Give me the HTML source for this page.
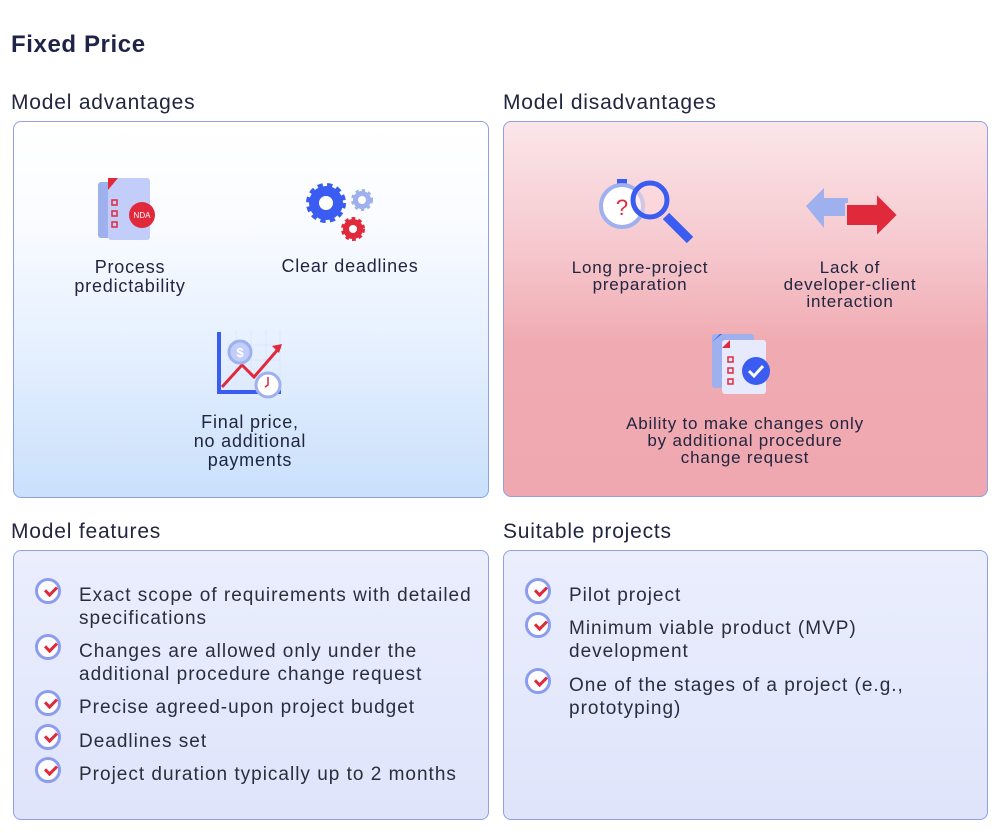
<!DOCTYPE html>
<html><head><meta charset="utf-8"><style>
*{margin:0;padding:0;box-sizing:border-box}
body{width:1000px;height:833px;background:#fff;font-family:"Liberation Sans",sans-serif;color:#22253f;position:relative;overflow:hidden}
.a{position:absolute}
.h{font-size:21px;letter-spacing:0.8px}
.box{position:absolute;border:1.5px solid #8fa0e6;border-radius:8px}
.c{text-align:center;font-size:17px;line-height:17px;letter-spacing:0.8px}
.li{position:absolute;font-size:19px;line-height:23px;color:#2b2d3a;letter-spacing:1px;white-space:nowrap}
.ck{position:absolute;width:26px;height:26px;border-radius:50%;border:3px solid #8c9cf0;background:#fff}
.ck:after{content:"";position:absolute;left:7px;top:5px;width:9px;height:5px;border-left:3px solid #e02a3c;border-bottom:3px solid #e02a3c;transform:rotate(-45deg)}
</style></head><body>
<div class="a" style="left:11px;top:31px;font-size:24px;font-weight:bold;color:#1e2347;letter-spacing:0.6px">Fixed Price</div>
<div class="a h" style="left:11px;top:91px">Model advantages</div>
<div class="a h" style="left:503px;top:91px">Model disadvantages</div>
<div class="a h" style="left:11px;top:520px">Model features</div>
<div class="a h" style="left:503px;top:520px">Suitable projects</div>

<div class="box" style="left:13px;top:121px;width:476px;height:377px;background:linear-gradient(#fff 0%,#fafcff 25%,#e6f0ff 60%,#c9e0fb 100%)"></div>
<div class="box" style="left:503px;top:121px;width:485px;height:376px;background:linear-gradient(#fbe6e9 0%,#f5c7cd 35%,#f0aab1 60%,#efa8b0 100%)"></div>
<div class="box" style="left:13px;top:550px;width:476px;height:270px;background:linear-gradient(#eaeefd,#dfe4fb)"></div>
<div class="box" style="left:503px;top:550px;width:485px;height:270px;background:linear-gradient(#eaeefd,#dfe4fb)"></div>

<svg class="a" style="left:96px;top:178px" width="62" height="64"><rect x="2" y="4" width="40" height="56" rx="3" fill="#9fb0ef"/><rect x="12" y="0" width="42" height="62" rx="3" fill="#c3cdfa"/><path d="M12 0h10L12 12z" fill="#e02a3c"/><g fill="none" stroke="#e02a3c" stroke-width="1.5"><rect x="16" y="22" width="5" height="5"/><rect x="16" y="33" width="5" height="5"/><rect x="16" y="44" width="5" height="5"/></g><circle cx="46" cy="37" r="13" fill="#e02a3c"/><text x="46" y="40" font-size="8" fill="#fff" text-anchor="middle" font-family="Liberation Sans">NDA</text></svg>
<svg class="a" style="left:304px;top:180px" width="72" height="64"><circle cx="22" cy="23" r="17" fill="#3a5cf0" stroke="#3a5cf0" stroke-width="6" stroke-dasharray="5 4"/><circle cx="22" cy="23" r="7" fill="#fff"/><circle cx="58" cy="20" r="9" fill="#9fb0ef" stroke="#9fb0ef" stroke-width="4" stroke-dasharray="3 3"/><circle cx="58" cy="20" r="4" fill="#fff"/><circle cx="49" cy="49" r="10" fill="#e02a3c" stroke="#e02a3c" stroke-width="4" stroke-dasharray="3.5 3"/><circle cx="49" cy="49" r="4" fill="#fff"/></svg>
<div class="a c" style="left:40px;top:258px;width:180px;font-size:18px;line-height:19px">Process<br>predictability</div>
<div class="a c" style="left:260px;top:258px;width:180px;font-size:18px">Clear deadlines</div>
<svg class="a" style="left:216px;top:330px" width="70" height="70"><g stroke="#dfe5fb" stroke-width="1"><path d="M10 15h55M10 30h55M10 45h55M20 0v60M35 0v60M50 0v60M64 0v60"/></g><path d="M3 2v60h62" fill="none" stroke="#3a5cf0" stroke-width="4"/><path d="M6 57l20-22 12 12 26-30" fill="none" stroke="#e02a3c" stroke-width="3"/><path d="M66 14l-10 2 7 7z" fill="#e02a3c"/><circle cx="24" cy="22" r="11" fill="#c3cdfa" stroke="#9fb0ef" stroke-width="3"/><text x="24" y="27" font-size="13" fill="#fff" text-anchor="middle" font-weight="bold">$</text><circle cx="52" cy="55" r="12" fill="#fff" stroke="#9fb0ef" stroke-width="3"/><path d="M52 47v8l-3 2" stroke="#e02a3c" stroke-width="1.5" fill="none"/></svg>
<div class="a c" style="left:150px;top:413px;width:200px;font-size:18px;line-height:19px">Final price,<br>no additional<br>payments</div>

<svg class="a" style="left:598px;top:178px" width="100" height="70"><rect x="19" y="1" width="10" height="5" fill="#3a5cf0"/><circle cx="24" cy="28" r="21" fill="#fff" stroke="#9fb0ef" stroke-width="4"/><text x="24" y="37" font-size="22" fill="#e02a3c" text-anchor="middle">?</text><path d="M68 38l24 24" stroke="#3a5cf0" stroke-width="9"/><circle cx="52" cy="22" r="17" fill="rgba(255,220,225,.5)" stroke="#3a5cf0" stroke-width="5"/></svg>
<svg class="a" style="left:804px;top:186px" width="96" height="52"><path d="M2 20l18-18v10h24v18H20v12z" fill="#9fb0ef"/><path d="M42 18h30V7l22 22-22 22V40H42z" fill="#e02a3c" stroke="#f4d0d5" stroke-width="2"/></svg>
<div class="a c" style="left:550px;top:259px;width:180px">Long pre-project<br>preparation</div>
<div class="a c" style="left:760px;top:259px;width:180px">Lack of<br>developer-client<br>interaction</div>
<svg class="a" style="left:710px;top:332px" width="64" height="64"><rect x="2" y="2" width="42" height="54" rx="3" fill="#9fb0ef"/><rect x="12" y="8" width="44" height="54" rx="3" fill="#e6eafc"/><path d="M2 10l8-8h2z" fill="#3a5cf0"/><path d="M12 16l8-8v8z" fill="#e02a3c"/><g fill="none" stroke="#e02a3c" stroke-width="1.5"><rect x="18" y="25" width="5" height="5"/><rect x="18" y="36" width="5" height="5"/><rect x="18" y="47" width="5" height="5"/></g><circle cx="46" cy="39" r="14" fill="#3a5cf0"/><path d="M39 39l5 5 9-10" stroke="#fff" stroke-width="3" fill="none"/></svg>
<div class="a c" style="left:575px;top:415px;width:340px">Ability to make changes only<br>by additional procedure<br>change request</div>

<div class="ck" style="left:35px;top:578px"></div><div class="li" style="left:79px;top:584px">Exact scope of requirements with detailed<br>specifications</div>
<div class="ck" style="left:35px;top:634px"></div><div class="li" style="left:79px;top:640px">Changes are allowed only under the<br>additional procedure change request</div>
<div class="ck" style="left:35px;top:690px"></div><div class="li" style="left:79px;top:696px">Precise agreed-upon project budget</div>
<div class="ck" style="left:35px;top:724px"></div><div class="li" style="left:79px;top:730px">Deadlines set</div>
<div class="ck" style="left:35px;top:757px"></div><div class="li" style="left:79px;top:763px">Project duration typically up to 2 months</div>

<div class="ck" style="left:525px;top:578px"></div><div class="li" style="left:569px;top:584px">Pilot project</div>
<div class="ck" style="left:525px;top:612px"></div><div class="li" style="left:569px;top:617px">Minimum viable product (MVP)<br>development</div>
<div class="ck" style="left:525px;top:668px"></div><div class="li" style="left:569px;top:674px">One of the stages of a project (e.g.,<br>prototyping)</div>
</body></html>
